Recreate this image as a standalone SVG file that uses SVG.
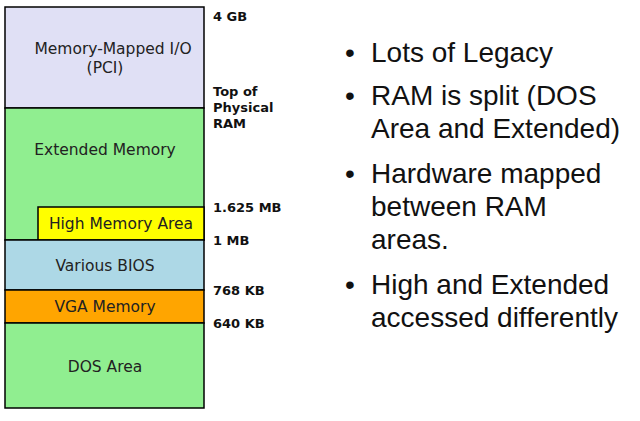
<svg xmlns="http://www.w3.org/2000/svg" width="640" height="421" viewBox="0 0 640 421">
<style>
.b{stroke:#000;stroke-width:1.5}
.t{font-family:"DejaVu Sans",sans-serif;font-size:15.5px;fill:#222;text-anchor:middle}
.l{font-family:"DejaVu Sans",sans-serif;font-size:13px;font-weight:bold;fill:#111}
.p{font-family:"Liberation Sans",Arial,sans-serif;font-size:28px;fill:#111}
</style>
<rect width="640" height="421" fill="#fff"/>
<g id="mmio"><rect class="b" x="5" y="7" width="199" height="101" fill="#e0e0f5"/><text class="t" x="113" y="54">Memory-Mapped I/O</text><text class="t" x="105" y="73">(PCI)</text></g>
<g id="ext"><rect class="b" x="5" y="108" width="199" height="132" fill="#90ee90"/><text class="t" x="105" y="155">Extended Memory</text></g>
<g id="hma"><rect class="b" x="38" y="207" width="166" height="33" fill="#ffff00"/><text class="t" x="121" y="229">High Memory Area</text></g>
<g id="bios"><rect class="b" x="5" y="240" width="199" height="50" fill="#add8e6"/><text class="t" x="105" y="271">Various BIOS</text></g>
<g id="vga"><rect class="b" x="5" y="290" width="199" height="33" fill="#ffa500"/><text class="t" x="105" y="312">VGA Memory</text></g>
<g id="dos"><rect class="b" x="5" y="323" width="199" height="85" fill="#90ee90"/><text class="t" x="105" y="372">DOS Area</text></g>
<g id="labels">
<text class="l" x="213" y="21">4 GB</text>
<text class="l" x="213" y="96">Top of</text><text class="l" x="213" y="112">Physical</text><text class="l" x="213" y="128">RAM</text>
<text class="l" x="213" y="212">1.625 MB</text>
<text class="l" x="213" y="245">1 MB</text>
<text class="l" x="213" y="295">768 KB</text>
<text class="l" x="213" y="328">640 KB</text>
</g>
<g id="bullets">
<text class="p" x="345" y="62">•</text><text class="p" x="371" y="62">Lots of Legacy</text>
<text class="p" x="345" y="105">•</text><text class="p" x="371" y="105">RAM is split (DOS</text><text class="p" x="371" y="138">Area and Extended)</text>
<text class="p" x="345" y="183">•</text><text class="p" x="371" y="183">Hardware mapped</text><text class="p" x="371" y="216">between RAM</text><text class="p" x="371" y="249">areas.</text>
<text class="p" x="345" y="294">•</text><text class="p" x="371" y="294">High and Extended</text><text class="p" x="371" y="327">accessed differently</text>
</g>
</svg>
